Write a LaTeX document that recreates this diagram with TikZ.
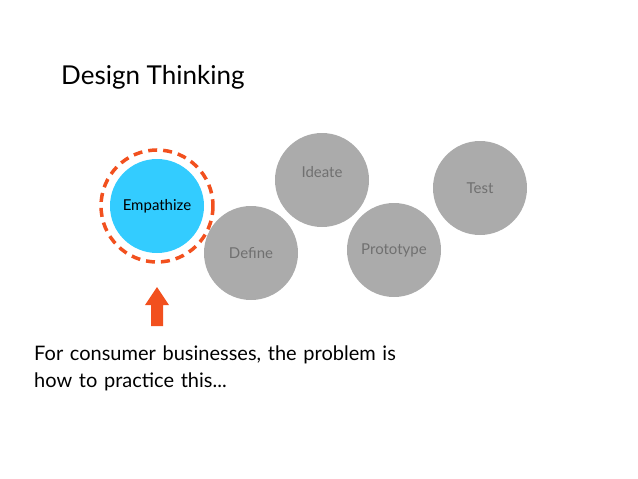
\documentclass[tikz,border=0pt]{standalone}
\usepackage{fontspec}
\setmainfont{Lato}
\definecolor{cgray}{HTML}{ABABAB}
\definecolor{cblue}{HTML}{33CCFF}
\definecolor{corange}{HTML}{F2501E}
\definecolor{tgray}{HTML}{707070}
\begin{document}
\begin{tikzpicture}[x=1pt,y=-1pt,
  stage/.style={circle,fill=cgray,minimum size=94pt,inner sep=0pt,text=tgray,font=\fontsize{15}{18}\selectfont},
  txt/.style={anchor=west,inner sep=0pt,font=\fontsize{20}{30}\selectfont}]
\useasboundingbox (0,0) rectangle (638,479);
\node[txt,font=\fontsize{26}{30}\selectfont] (title) at (61,77) {Design Thinking};
\node[stage] (ideate) at (322,180) {\raisebox{2ex}{Ideate}};
\node[stage] (define) at (251,253) {Define};
\node[stage] (proto) at (394,250) {Prototype};
\node[stage] (test) at (480,188) {Test};
\node[stage,fill=cblue,text=black] (emp) at (157,206) {Empathize};
\draw[corange,line width=3.5pt,dash pattern=on 9pt off 6pt] (emp.center) circle (56);
\coordinate (abot) at (157,326);
\coordinate (atop) at (157,286);
\fill[corange] (151,326) -- (151,305) -- (145,305) -- (157,287) -- (169,305) -- (163,305) -- (163,326) -- cycle;
\node[txt,align=left,text width=420pt] (body) at (34,368) {For consumer businesses, the problem is\\[-0.15em] how to practice this...};
\end{tikzpicture}
\end{document}
